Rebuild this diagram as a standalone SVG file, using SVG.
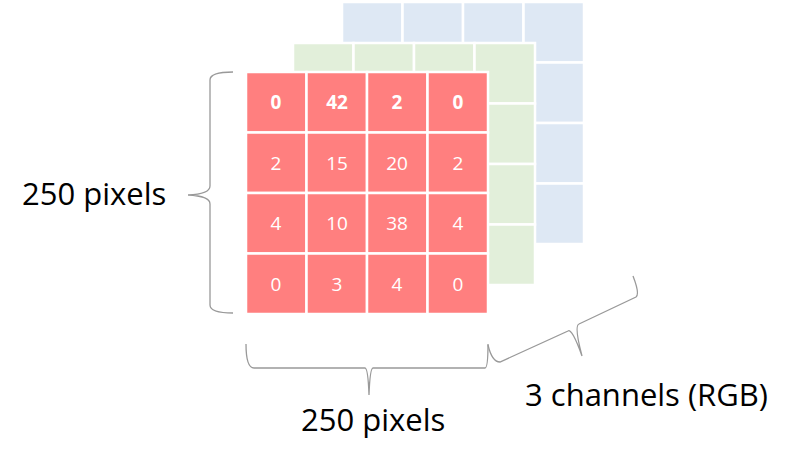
<svg xmlns="http://www.w3.org/2000/svg" width="800" height="464" viewBox="0 0 800 464">
<defs><style>
.b{fill:#DEE8F4;stroke:#fff;stroke-width:2.5}
.g{fill:#E2EFDA;stroke:#fff;stroke-width:2.5}
.r{fill:#FF7F7F;stroke:#fff;stroke-width:2.5}
.n{font-family:"Open Sans","Liberation Sans",sans-serif;font-size:19px;fill:#fff;text-anchor:middle}
.bd{font-weight:bold}
.l{font-family:"Open Sans","Liberation Sans",sans-serif;font-size:31px;fill:#000}
.br{fill:none;stroke:#999;stroke-width:1.3}
</style>
<g id="cellsB"><rect class="b" x="0" y="0" width="60.5" height="60.5"/><rect class="b" x="60.5" y="0" width="60.5" height="60.5"/><rect class="b" x="121" y="0" width="60.5" height="60.5"/><rect class="b" x="181.5" y="0" width="60.5" height="60.5"/></g>
<g id="cellsG"><rect class="g" x="0" y="0" width="60.5" height="60.5"/><rect class="g" x="60.5" y="0" width="60.5" height="60.5"/><rect class="g" x="121" y="0" width="60.5" height="60.5"/><rect class="g" x="181.5" y="0" width="60.5" height="60.5"/></g>
</defs>
<g id="blue">
<use href="#cellsB" x="342" y="2"/><use href="#cellsB" x="342" y="62.5"/><use href="#cellsB" x="342" y="123"/><use href="#cellsB" x="342" y="183.5"/>
</g>
<g id="green">
<use href="#cellsG" x="293" y="43"/><use href="#cellsG" x="293" y="103.5"/><use href="#cellsG" x="293" y="164"/><use href="#cellsG" x="293" y="224.5"/>
</g>
<g id="red">
<rect class="r" x="246" y="72" width="60.5" height="60.5"/><rect class="r" x="306.5" y="72" width="60.5" height="60.5"/><rect class="r" x="367" y="72" width="60.5" height="60.5"/><rect class="r" x="427.5" y="72" width="60.5" height="60.5"/>
<rect class="r" x="246" y="132.5" width="60.5" height="60.5"/><rect class="r" x="306.5" y="132.5" width="60.5" height="60.5"/><rect class="r" x="367" y="132.5" width="60.5" height="60.5"/><rect class="r" x="427.5" y="132.5" width="60.5" height="60.5"/>
<rect class="r" x="246" y="193" width="60.5" height="60.5"/><rect class="r" x="306.5" y="193" width="60.5" height="60.5"/><rect class="r" x="367" y="193" width="60.5" height="60.5"/><rect class="r" x="427.5" y="193" width="60.5" height="60.5"/>
<rect class="r" x="246" y="253.5" width="60.5" height="60.5"/><rect class="r" x="306.5" y="253.5" width="60.5" height="60.5"/><rect class="r" x="367" y="253.5" width="60.5" height="60.5"/><rect class="r" x="427.5" y="253.5" width="60.5" height="60.5"/>
<g class="n bd"><text x="276" y="109">0</text><text x="337" y="109">42</text><text x="397" y="109">2</text><text x="458" y="109">0</text></g>
<g class="n"><text x="276" y="170">2</text><text x="337" y="170">15</text><text x="397" y="170">20</text><text x="458" y="170">2</text>
<text x="276" y="230">4</text><text x="337" y="230">10</text><text x="397" y="230">38</text><text x="458" y="230">4</text>
<text x="276" y="291">0</text><text x="337" y="291">3</text><text x="397" y="291">4</text><text x="458" y="291">0</text></g>
</g>
<g id="connectors">
<path class="br" d="M233,72 Q210,72 210,80 L210,186 Q210,194 188,195 Q210,196 210,204 L210,305 Q210,313 233,313"/>
<path class="br" d="M246,344 Q246,368 254,368 L365,368 Q368,368 369,395 Q370,368 373,368 L485,368 Q488,368 488,344"/>
<path class="br" d="M488,345 Q492,362 500,362 L568,331 Q572,328 582,356 Q574,326 579,324 L636,297 Q640,294 633,276"/>
</g>
<g id="labels">
<text class="l" x="22" y="205">250 pixels</text>
<text class="l" x="301" y="431">250 pixels</text>
<text class="l" x="525" y="406">3 channels (RGB)</text>
</g>
</svg>
